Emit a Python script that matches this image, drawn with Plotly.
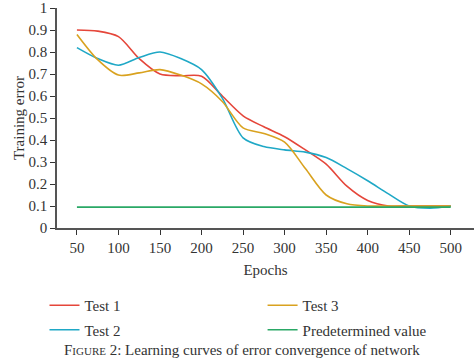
import plotly.graph_objects as go

epochs = [50, 75, 100, 125, 150, 175, 200, 225, 250, 275, 300, 325, 350, 375, 400, 425, 450, 475, 500]
test1 = [0.90, 0.895, 0.87, 0.77, 0.70, 0.692, 0.69, 0.60, 0.51, 0.46, 0.415, 0.355, 0.29, 0.19, 0.125, 0.10, 0.10, 0.10, 0.10]
test2 = [0.82, 0.77, 0.74, 0.775, 0.80, 0.77, 0.72, 0.59, 0.41, 0.37, 0.355, 0.345, 0.32, 0.27, 0.215, 0.155, 0.10, 0.09, 0.10]
test3 = [0.88, 0.765, 0.695, 0.705, 0.72, 0.695, 0.655, 0.575, 0.455, 0.43, 0.39, 0.27, 0.15, 0.11, 0.10, 0.10, 0.10, 0.10, 0.10]
predetermined = [0.095] * len(epochs)

x_ticks = [50, 100, 150, 200, 250, 300, 350, 400, 450, 500]
y_ticks = [0, 0.1, 0.2, 0.3, 0.4, 0.5, 0.6, 0.7, 0.8, 0.9, 1]
y_labels = ["0", "0.1", "0.2", "0.3", "0.4", "0.5", "0.6", "0.7", "0.8", "0.9", "1"]

FONT = "Liberation Serif"
TXT = "#333333"
fig = go.Figure()
series = [
    ("Test 1", test1, "#e5463a", "legend"),
    ("Test 2", test2, "#1fa8c6", "legend"),
    ("Test 3", test3, "#d9a21f", "legend2"),
    ("Predetermined value", predetermined, "#2aa866", "legend2"),
]
for name, vals, color, leg in series:
    fig.add_trace(go.Scatter(
        x=epochs, y=vals, name=name, mode="lines", legend=leg, legendgroup=name,
        line=dict(color=color, width=1.6, shape="spline", smoothing=0.8),
    ))

leg_common = dict(orientation="v", xanchor="left", yanchor="top", y=-0.277,
                  tracegroupgap=2, bgcolor="rgba(0,0,0,0)",
                  font=dict(family=FONT, size=15, color=TXT))

fig.update_layout(
    width=474, height=358,
    margin=dict(l=57, r=0, t=8, b=130, autoexpand=False),
    paper_bgcolor="white", plot_bgcolor="white",
    font=dict(family=FONT, size=15, color=TXT),
    showlegend=True,
    legend=dict(x=-0.03, **leg_common),
    legend2=dict(x=0.493, **leg_common),
    xaxis=dict(range=[26, 528], tickvals=x_ticks, ticks="outside", ticklen=5,
               tickcolor=TXT, showline=True, linecolor="#555555", linewidth=1.5,
               showgrid=False, zeroline=False, ticklabeloverflow="allow",
               title=dict(text="Epochs", standoff=10, font=dict(size=15))),
    yaxis=dict(range=[0, 1], tickvals=y_ticks, ticktext=y_labels, ticks="outside", ticklen=5,
               tickcolor=TXT, showline=True, linecolor="#555555", linewidth=1.5,
               showgrid=False, zeroline=False, ticklabeloverflow="allow",
               title=dict(text="Training error", standoff=0, font=dict(size=15))),
)

fig.add_annotation(text="F<span style='font-size:11px'>IGURE</span> 2: Learning curves of error convergence of network",
                   xref="paper", yref="paper", x=0.444, y=-0.509, xanchor="center", yanchor="top",
                   showarrow=False, font=dict(family=FONT, size=15, color=TXT))

fig.write_html("out.html", post_script="document.body.style.margin='0';",
               config={"displayModeBar": False})
